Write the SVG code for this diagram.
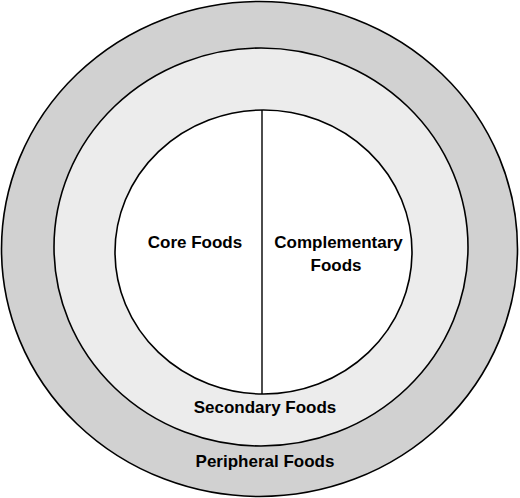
<svg xmlns="http://www.w3.org/2000/svg" width="520" height="498" viewBox="0 0 520 498">
<style>
.ring{stroke:#000;stroke-width:1.6}
.lbl{font-family:"Liberation Sans",Arial,sans-serif;font-weight:bold;font-size:17px;fill:#000;text-anchor:middle}
</style>
<rect width="520" height="498" fill="#fff"/>
<g id="peripheral">
<ellipse class="ring" cx="259.5" cy="249" rx="258" ry="247.5" fill="#d1d1d1"/>
<text class="lbl" x="265" y="467">Peripheral Foods</text>
</g>
<g id="secondary">
<ellipse class="ring" cx="261" cy="247" rx="207" ry="199" fill="#ececec"/>
<text class="lbl" x="265" y="413">Secondary Foods</text>
</g>
<g id="inner">
<ellipse class="ring" cx="263.5" cy="252" rx="148.5" ry="142" fill="#fff"/>
</g>
<g id="connectors">
<line x1="262" y1="110" x2="262" y2="394" stroke="#000" stroke-width="1.4"/>
</g>
<g id="core">
<text class="lbl" x="195" y="248">Core Foods</text>
</g>
<g id="complementary">
<text class="lbl" x="338.5" y="248">Complementary</text>
<text class="lbl" x="336" y="271">Foods</text>
</g>
</svg>
